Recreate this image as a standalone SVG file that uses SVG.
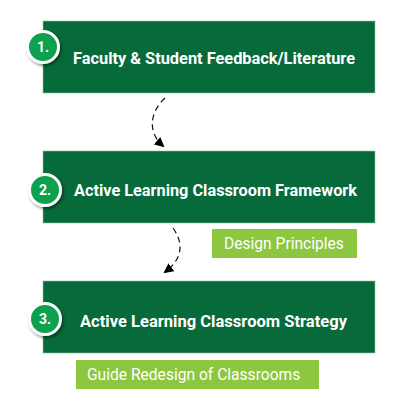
<svg xmlns="http://www.w3.org/2000/svg" width="408" height="400" viewBox="0 0 408 400">
<defs>
<style>
.box{fill:#076a3b;stroke:#8fc4a5;stroke-width:0.6}
.title{font-family:Roboto,"Liberation Sans",sans-serif;font-weight:bold;font-size:16.3px;fill:#ffffff}
.num{font-family:Roboto,"Liberation Sans",sans-serif;font-weight:bold;font-size:14px;fill:#ffffff;text-anchor:middle}
.badge{fill:#0ea14f;stroke:#ffffff;stroke-width:3}
.tag{fill:#8dc63f}
.tagtext{font-family:Roboto,"Liberation Sans",sans-serif;font-size:15.6px;fill:#ffffff}
.conn{fill:none;stroke:#111111;stroke-width:1.2;stroke-dasharray:6,4}
</style>
<filter id="sh" x="-50%" y="-50%" width="200%" height="200%">
<feDropShadow dx="1.5" dy="2" stdDeviation="1.5" flood-color="#000000" flood-opacity="0.45"/>
</filter>
<marker id="ah" markerWidth="10" markerHeight="10" refX="8" refY="5" orient="auto" markerUnits="userSpaceOnUse">
<path d="M0,0 L10,5 L0,10 z" fill="#000000"/>
</marker>
</defs>
<rect width="408" height="400" fill="#ffffff"/>
<g id="connectors">
<path class="conn" d="M165,98 C150,112 147,132 163,146" marker-end="url(#ah)"/>
<path class="conn" d="M173,228 C183,242 184,258 165,272" marker-end="url(#ah)"/>
</g>
<g id="node1">
<rect class="box" x="43" y="21" width="332" height="72"/>
<circle class="badge" cx="43" cy="47" r="15.5" filter="url(#sh)"/>
<text class="num" x="43" y="52">1.</text>
<text class="title" x="73" y="64" textLength="282" lengthAdjust="spacingAndGlyphs">Faculty &amp; Student Feedback/Literature</text>
</g>
<g id="node2">
<rect class="box" x="43" y="151" width="332" height="72"/>
<circle class="badge" cx="45" cy="190" r="15.5" filter="url(#sh)"/>
<text class="num" x="45" y="195">2.</text>
<text class="title" x="74" y="196" textLength="283" lengthAdjust="spacingAndGlyphs">Active Learning Classroom Framework</text>
</g>
<g id="node3">
<rect class="box" x="43" y="281" width="332" height="72"/>
<circle class="badge" cx="45" cy="319" r="15.5" filter="url(#sh)"/>
<text class="num" x="45" y="324">3.</text>
<text class="title" x="80" y="327" textLength="267" lengthAdjust="spacingAndGlyphs">Active Learning Classroom Strategy</text>
</g>
<g id="tag1">
<rect class="tag" x="212" y="229" width="145" height="29"/>
<text class="tagtext" x="224" y="249">Design Principles</text>
</g>
<g id="tag2">
<rect class="tag" x="76" y="360" width="243" height="29"/>
<text class="tagtext" x="87" y="380">Guide Redesign of Classrooms</text>
</g>
</svg>
